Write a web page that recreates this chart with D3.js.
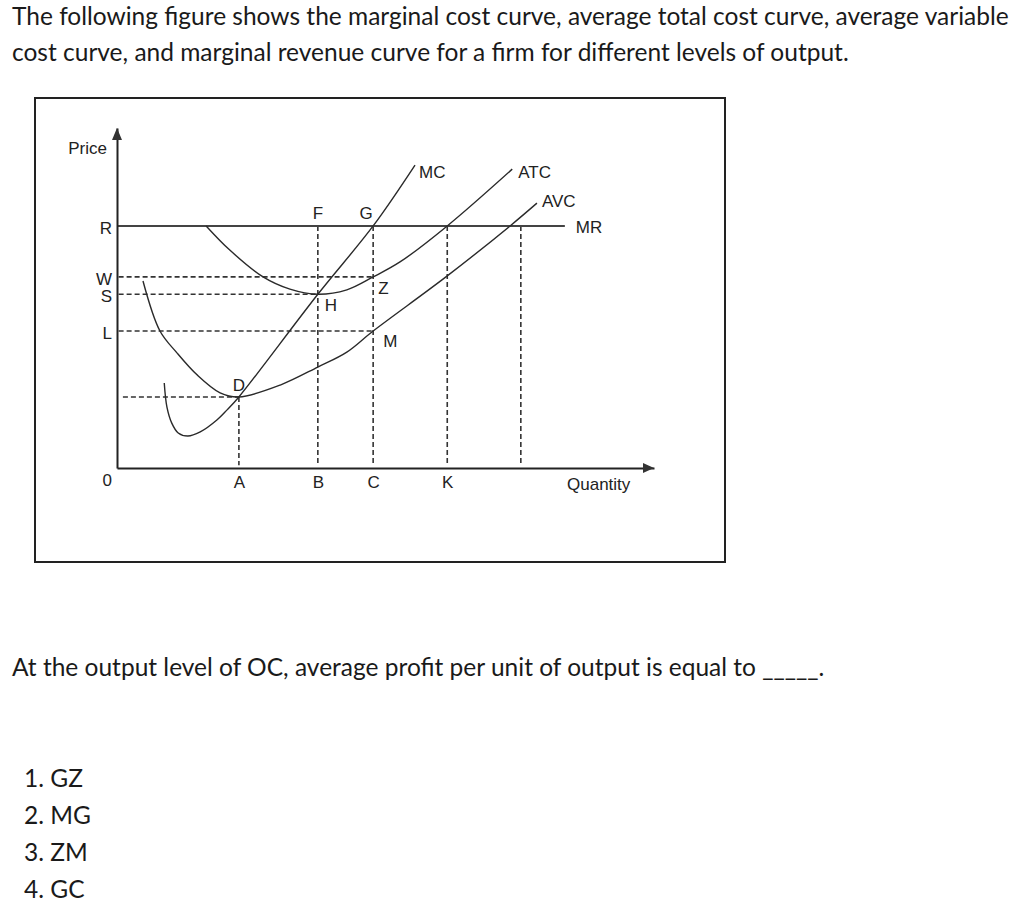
<!DOCTYPE html>
<html>
<head>
<meta charset="utf-8">
<script src="https://cdn.jsdelivr.net/npm/d3@7"></script>
<style>
  body { margin: 0; background: #fff; }
  .q { font-family: Lato, "Open Sans", sans-serif; fill: #1a1a1a; }
  .lbl { font-family: "Liberation Sans", Arial, sans-serif; font-size: 17px; fill: #222; }
</style>
</head>
<body>
<div id="vis"></div>
<script>
// data (price / quantity in chart units 0..100)
const PRICE_LABELS = ["R", "W", "S", "L"];
const PRICE_LEVELS = [71.2, 56.2, 51.1, 40.3];
const QTY_LABELS = ["A", "B", "C", "K"];
const QTY_LEVELS = [22.7, 37.4, 47.7, 61.5];
const MR_PRICE = 71.2;
const MR_END = 83.4;
const EXTRA_DROP = 75.2;      // unlabeled dashed line under AVC = MR
const D_LEVEL = 20.9;

// curves [quantity, price]
const MC = [[8.8, 25.0], [9.3, 17.9], [10.2, 13.2], [11.4, 10.3], [13.2, 9.4], [15.5, 10.6],
            [18.6, 14.1], [20.5, 17.1], [22.7, 20.9], [37.4, 51.1], [47.7, 71.2], [55.5, 89.1]];
const ATC = [[16.6, 71.2], [21.0, 64.1], [27.2, 56.2], [32.2, 52.6], [37.4, 51.1], [42.8, 52.4],
             [47.7, 56.2], [52.7, 60.6], [61.5, 71.2], [73.6, 87.9]];
const AVC = [[4.84, 55.0], [8.0, 40.3], [11.2, 33.8], [14.9, 27.4], [19.2, 22.1], [22.7, 20.9],
             [30.4, 24.4], [37.4, 29.7], [42.8, 34.1], [47.7, 40.3], [61.5, 56.5], [73.2, 71.2],
             [78.2, 77.9]];

const POINT_NAMES = ["D", "F", "G", "H", "Z", "M"];
const POINT_QTY   = [22.7, 37.4, 47.7, 37.4, 47.7, 47.7];
const POINT_PRICE = [20.9, 71.2, 71.2, 51.1, 56.2, 40.3];

const WIDTH = 1018, HEIGHT = 902;

const svg = d3.select("#vis").append("svg")
    .attr("width", WIDTH).attr("height", HEIGHT);

// question text
const TITLE = ["The following figure shows the marginal cost curve, average total cost curve, average variable",
               "cost curve, and marginal revenue curve for a firm for different levels of output."];
svg.selectAll(".title").data(TITLE).enter().append("text")
    .attr("class", "q title")
    .attr("x", 12).attr("y", (d, i) => 25 + i * 36)
    .style("font-size", "24.5px")
    .text(d => d);

svg.append("text").attr("class", "q")
    .attr("x", 12).attr("y", 676).style("font-size", "24.5px")
    .text("At the output level of OC, average profit per unit of output is equal to _____.");

const OPTIONS = ["GZ", "MG", "ZM", "GC"];
svg.selectAll(".opt").data(OPTIONS).enter().append("text")
    .attr("class", "q opt")
    .attr("x", 24).attr("y", (d, i) => 787 + i * 37)
    .style("font-size", "24.5px")
    .text((d, i) => (i + 1) + ". " + d);

// frame
svg.append("rect")
    .attr("x", 35).attr("y", 98).attr("width", 690).attr("height", 464)
    .attr("fill", "none").attr("stroke", "#222").attr("stroke-width", 2);

const X = d3.scaleLinear().domain([0, 100]).range([117, 654]);
const Y = d3.scaleLinear().domain([0, 100]).range([468, 128]);

const g = svg.append("g");
const DASH = "5,3";

// dashed guides
const hGuides = [[PRICE_LEVELS[1], QTY_LEVELS[2]], [PRICE_LEVELS[2], QTY_LEVELS[1]],
                 [PRICE_LEVELS[3], QTY_LEVELS[2]]];
g.selectAll(".hg").data(hGuides).enter().append("line")
    .attr("x1", X(0.3)).attr("x2", d => X(d[1]))
    .attr("y1", d => Y(d[0])).attr("y2", d => Y(d[0]))
    .attr("stroke", "#333").attr("stroke-width", 1.6).attr("stroke-dasharray", DASH);
g.append("line")
    .attr("x1", X(1.1)).attr("x2", X(QTY_LEVELS[0]))
    .attr("y1", Y(D_LEVEL)).attr("y2", Y(D_LEVEL))
    .attr("stroke", "#333").attr("stroke-width", 1.6).attr("stroke-dasharray", DASH);

const vGuides = [[QTY_LEVELS[0], D_LEVEL], [QTY_LEVELS[1], MR_PRICE], [QTY_LEVELS[2], MR_PRICE],
                 [QTY_LEVELS[3], MR_PRICE], [EXTRA_DROP, MR_PRICE]];
g.selectAll(".vg").data(vGuides).enter().append("line")
    .attr("x1", d => X(d[0])).attr("x2", d => X(d[0]))
    .attr("y1", d => Y(d[1])).attr("y2", Y(0.8))
    .attr("stroke", "#333").attr("stroke-width", 1.6).attr("stroke-dasharray", DASH);

// MR
g.append("line")
    .attr("x1", X(0)).attr("x2", X(MR_END))
    .attr("y1", Y(MR_PRICE)).attr("y2", Y(MR_PRICE))
    .attr("stroke", "#444").attr("stroke-width", 2);

// cost curves
const line = d3.line().x(d => X(d[0])).y(d => Y(d[1])).curve(d3.curveCatmullRom.alpha(0.5));
g.selectAll(".curve").data([MC, ATC, AVC]).enter().append("path")
    .attr("d", line)
    .attr("fill", "none").attr("stroke", "#2a2a2a").attr("stroke-width", 1.4);

// axes
const xAxis = g.append("g").attr("transform", "translate(0," + Y(0) + ")")
    .call(d3.axisBottom(X).tickValues(QTY_LEVELS).tickSize(0).tickSizeOuter(0).tickPadding(8)
          .tickFormat((d, i) => QTY_LABELS[i]));
const yAxis = g.append("g").attr("transform", "translate(" + X(0) + ",0)")
    .call(d3.axisLeft(Y).tickValues(PRICE_LEVELS).tickSize(0).tickSizeOuter(0).tickPadding(5)
          .tickFormat((d, i) => PRICE_LABELS[i]));
[xAxis, yAxis].forEach(a => {
  a.select(".domain").attr("stroke", "#222").attr("stroke-width", 2);
  a.selectAll("text").attr("class", "lbl").attr("font-family", null).attr("font-size", null);
});
yAxis.selectAll(".tick text").attr("dy", "0.45em");

// arrow heads
g.append("path")
    .attr("d", "M" + X(0) + "," + Y(100) + "l-5,12h10z").attr("fill", "#333");
g.append("path")
    .attr("d", "M" + X(100) + "," + Y(0) + "l-11,-5v10z").attr("fill", "#333");

g.append("text").attr("class", "lbl").attr("x", X(0) - 5).attr("y", Y(0) + 18)
    .attr("text-anchor", "end").text("0");
g.append("text").attr("class", "lbl").attr("x", 107).attr("y", 154)
    .attr("text-anchor", "end").text("Price");
g.append("text").attr("class", "lbl").attr("x", 567).attr("y", 490).text("Quantity");

// curve names
const ends = [[MC[MC.length - 1], "MC", 4, 13], [ATC[ATC.length - 1], "ATC", 6, 9],
              [AVC[AVC.length - 1], "AVC", 5, 4], [[MR_END, MR_PRICE], "MR", 11, 7]];
ends.forEach(e => {
  g.append("text").attr("class", "lbl")
    .attr("x", X(e[0][0]) + e[2]).attr("y", Y(e[0][1]) + e[3]).text(e[1]);
});

// point letters
const OFFS = {D: [0, -6, "middle"], F: [0, -7, "middle"], G: [-7, -7, "middle"],
              H: [7, 17, "start"], Z: [5, 17, "start"], M: [10, 16, "start"]};
POINT_NAMES.forEach((n, i) => {
  g.append("text").attr("class", "lbl")
    .attr("x", X(POINT_QTY[i]) + OFFS[n][0]).attr("y", Y(POINT_PRICE[i]) + OFFS[n][1])
    .attr("text-anchor", OFFS[n][2]).text(n);
});
</script>
</body>
</html>
